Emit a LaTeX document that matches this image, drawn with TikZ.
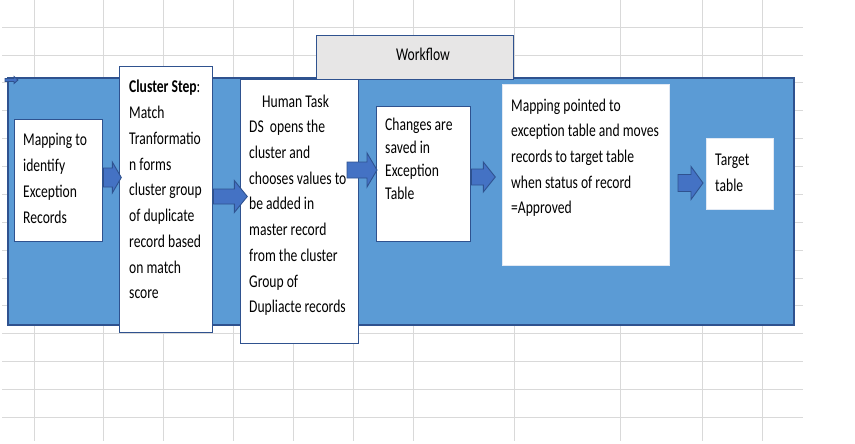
\documentclass[tikz,border=0pt]{standalone}
\usepackage{fontspec}
\usepackage{graphicx}
\setmainfont{Carlito}
\definecolor{panelblue}{RGB}{91,155,213}
\definecolor{darkblue}{RGB}{47,82,143}
\definecolor{arrowblue}{RGB}{68,114,196}
\definecolor{wfgray}{RGB}{231,230,230}
\definecolor{gridgray}{RGB}{217,217,217}
\definecolor{faintedge}{RGB}{225,233,244}
\newcommand\blockarrow[5]{%
  \draw[barrow] #1 ++(0,-#4) -- ++(#2,0) -- ++(0,{-(#5-#4)}) -- ++(#3,#5) -- ++(-#3,#5) -- ++(0,{-(#5-#4)}) -- ++(-#2,0) -- cycle;}
\newcommand\txtlines[2]{\vtop{\baselineskip=#1\lineskiplimit=-100pt\lineskip=0pt #2}}
\newcommand\sline[1]{\hbox{\scalebox{1}[1.32]{#1}}}
\begin{document}
\begin{tikzpicture}[x=1pt,y=-1pt,
  gridline/.style={draw=gridgray,line width=0.9pt},
  panelbox/.style={draw=darkblue,fill=panelblue,line width=1.6pt,rectangle,anchor=north west,inner sep=0pt},
  stepbox/.style={draw=darkblue,fill=white,line width=1.3pt,rectangle,anchor=north west,inner sep=0pt},
  plainbox/.style={draw=faintedge,fill=white,line width=0.8pt,rectangle,anchor=north west,inner sep=0pt},
  titlebox/.style={draw=darkblue,fill=wfgray,line width=1.3pt,rectangle,anchor=north west,inner sep=0pt},
  txt/.style={anchor=base west,inner sep=0pt,font=\fontsize{13.6}{25.7}\selectfont,text=black},
  barrow/.style={draw=darkblue,fill=arrowblue,line width=0.9pt,line join=miter}]
\useasboundingbox (0,0) rectangle (855,444);
% grid
\foreach \gy in {27,55,82,110,138,166,194,222,250,278,305,333,361,389,417}
  \draw[gridline] (2,\gy) -- (803,\gy);
\foreach \gx in {34,103,163,233,293,353,413,514,620,702,762}
  \draw[gridline] (\gx,0) -- (\gx,441);
% panel
\node[panelbox,minimum width=786pt,minimum height=247pt] (panel) at (7,77) {};
\coordinate (tiny) at (5,80);
\blockarrow{(tiny)}{9}{4}{1.5}{3.5}
% workflow title
\node[titlebox,minimum width=197pt,minimum height=44pt] (wf) at (316,35) {};
\node[txt,anchor=base] (wft) at (423,61) {\sline{Workflow}};
% boxes
\node[stepbox,minimum width=88pt,minimum height=122pt] (b1) at (14,119) {};
\node[stepbox,minimum width=93pt,minimum height=266pt] (b2) at (119,66) {};
\node[stepbox,minimum width=118pt,minimum height=264pt] (b3) at (240,79) {};
\node[stepbox,minimum width=94pt,minimum height=135pt] (b4) at (376,106) {};
\node[plainbox,minimum width=167pt,minimum height=181pt] (b5) at (502,84) {};
\node[plainbox,minimum width=67pt,minimum height=71pt] (b6) at (706,138) {};
% texts
\node[txt] (t1) at (23,146) {\txtlines{26pt}{\sline{Mapping to}\sline{identify}\sline{Exception}\sline{Records}}};
\node[txt] (t2) at (129,93) {\txtlines{25.75pt}{\sline{\textbf{Cluster Step}:}\sline{Match}\sline{Tranformatio}\sline{n forms}\sline{cluster group}\sline{of duplicate}\sline{record based}\sline{on match}\sline{score}}};
\node[txt] (t3) at (249,107) {\txtlines{25.75pt}{\sline{\hspace{13pt}Human Task}\sline{DS\ \ opens the}\sline{cluster and}\sline{chooses values to}\sline{be added in}\sline{master record}\sline{from the cluster}\sline{Group of}\sline{Dupliacte records}}};
\node[txt] (t4) at (385,131) {\txtlines{23pt}{\sline{Changes are}\sline{saved in}\sline{Exception}\sline{Table}}};
\node[txt] (t5) at (511,111) {\txtlines{25.75pt}{\sline{Mapping pointed to}\sline{exception table and moves}\sline{records to target table}\sline{when status of record}\sline{=Approved}}};
\node[txt] (t6) at (715,165) {\txtlines{26pt}{\sline{Target}\sline{table}}};
% block arrows
\blockarrow{(b1.east |- 0,177.5)}{9}{9}{9.5}{15.5}
\blockarrow{(b2.east |- 0,196.5)}{21}{13}{7.5}{16}
\coordinate (a3s) at (347,170);
\blockarrow{(a3s)}{20}{10}{8}{17}
\blockarrow{(b4.east |- 0,177)}{12}{12}{8}{15}
\coordinate (a5s) at (678,183);
\blockarrow{(a5s)}{13}{12}{8.5}{16.5}
\end{tikzpicture}
\end{document}
